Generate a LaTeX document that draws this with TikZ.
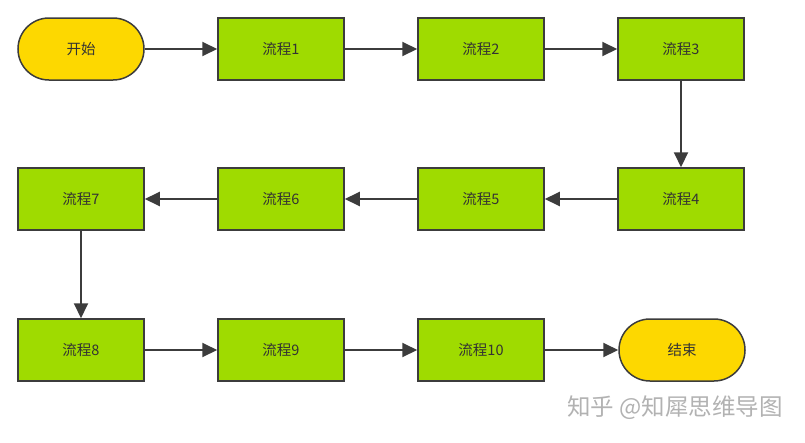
\documentclass[tikz,border=0pt]{standalone}
\usepackage{fontspec}
\newfontfamily\cjk{Noto Sans CJK SC}
\usetikzlibrary{arrows.meta}
\definecolor{grn}{HTML}{9FDB00}
\definecolor{yel}{HTML}{FDD800}
\definecolor{edge}{HTML}{3C3C3C}
\tikzset{
 x=1pt,y=-1pt,
 proc/.style={draw=edge,line width=1.5pt,fill=grn,minimum width=126pt,minimum height=62pt,inner sep=0pt,font=\cjk\fontsize{14.5}{17}\selectfont,text=black!80},
 term/.style={proc,fill=yel,rounded corners=31pt},
 conn/.style={draw=edge,line width=2pt,-{Triangle[length=15pt,width=14pt]}}
}
\begin{document}
\begin{tikzpicture}
\useasboundingbox (0,0) rectangle (805,442);
\node[term] (s) at (81,49) {开始};
\node[proc] (p1) at (281,49) {流程1};
\node[proc] (p2) at (481,49) {流程2};
\node[proc] (p3) at (681,49) {流程3};
\node[proc] (p4) at (681,199) {流程4};
\node[proc] (p5) at (481,199) {流程5};
\node[proc] (p6) at (281,199) {流程6};
\node[proc] (p7) at (81,199) {流程7};
\node[proc] (p8) at (81,350) {流程8};
\node[proc] (p9) at (281,350) {流程9};
\node[proc] (p10) at (481,350) {流程10};
\node[term] (e) at (682,350) {结束};
\foreach \a/\b in {s/p1,p1/p2,p2/p3,p3/p4,p4/p5,p5/p6,p6/p7,p7/p8,p8/p9,p9/p10,p10/e}
  \draw[conn] (\a) -- (\b);
\node[font=\cjk\fontsize{23.5}{26}\selectfont,text=black!30] (w) at (675,408) {知乎 @知犀思维导图};
\end{tikzpicture}
\end{document}
